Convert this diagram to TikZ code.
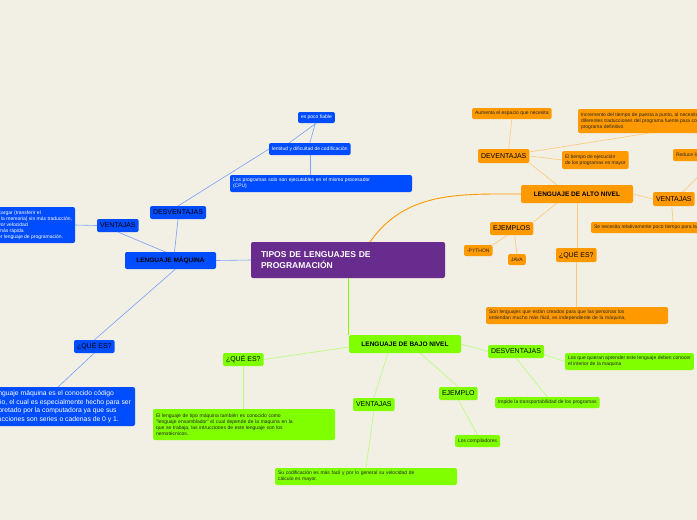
\documentclass[tikz,border=0pt]{standalone}
\usepackage{fontspec}
\setmainfont{Liberation Sans}
\begin{document}
\begin{tikzpicture}[x=1pt,y=-1pt,
 every node/.style={inner sep=0pt,outer sep=0pt},
 box/.style={rounded corners=2pt,anchor=north west,align=left,font=\fontsize{5}{6}\selectfont,inner xsep=3pt,inner ysep=1pt},
 bb/.style={box,fill=blueC,text=white},
 bh/.style={box,fill=blueC,text=black,font=\fontsize{7}{8}\selectfont},
 ob/.style={box,fill=orC,text=black!85},
 oh/.style={box,fill=orC,text=black,font=\fontsize{7}{8}\selectfont},
 gb/.style={box,fill=grC,text=black!85},
 gh/.style={box,fill=grC,text=black,font=\fontsize{7}{8}\selectfont},
 bl/.style={draw=blueL,line width=0.6pt},
 ol/.style={draw=orL,line width=0.6pt},
 gl/.style={draw=grL,line width=0.6pt}]
\definecolor{blueC}{RGB}{0,76,255}
\definecolor{blueL}{RGB}{120,160,255}
\definecolor{orC}{RGB}{255,153,0}
\definecolor{orL}{RGB}{255,200,120}
\definecolor{grC}{RGB}{128,255,0}
\definecolor{grL}{RGB}{180,255,120}
\definecolor{bgC}{RGB}{242,240,228}
\definecolor{purC}{RGB}{104,44,142}
\fill[bgC] (0,0) rectangle (697,520);
\useasboundingbox (0,0) rectangle (697,520);
\clip (0,0) rectangle (697,520);
% main
\node[box,fill=purC,text=white,font=\bfseries\fontsize{8.5}{11}\selectfont,text width=174pt,minimum height=36pt,inner xsep=10pt] (main) at (251,242) {TIPOS DE LENGUAJES DE\\PROGRAMACIÓN};
% blue
\node[bh,font=\bfseries\fontsize{6.5}{8}\selectfont,minimum height=17pt,minimum width=91pt,align=center] (lm) at (125,252) {LENGUAJE MÁQUINA};
\node[bh,minimum height=13pt] (bdes) at (150,206) {DESVENTAJAS};
\node[bh,minimum height=13pt] (bven) at (97,219) {VENTAJAS};
\node[bb,anchor=north east,minimum height=36pt] (bvt) at (75,207) {-Se puede cargar (transferir el\\programa a la memoria) sin más traducción,\\-Posee mayor velocidad\\-Ejecución más rápida\\-Es el primer lenguaje de programación.};
\node[bb,minimum height=11pt] (fia) at (298,112) {es poco fiable};
\node[bb,minimum height=12pt] (len) at (269,143) {lentitud y dificultad de codificación};
\node[bb,minimum height=17pt,text width=176pt] (pro) at (230,175) {Los programas solo son ejecutables en el mismo procesador\\(CPU)};
\node[bh,minimum height=13pt] (bque) at (74,340) {¿QUÉ ES?};
\node[bb,anchor=north east,font=\fontsize{6.8}{8.6}\selectfont,minimum height=39pt,inner xsep=4pt] (bqt) at (135,387) {El lenguaje máquina es el conocido código\\binario, el cual es especialmente hecho para ser\\interpretado por la computadora ya que sus\\instrucciones son series o cadenas de 0 y 1.};
\draw[bl] (main.west) -- (lm.east);
\draw[bl] (lm.north) ++(4,0) -- (bdes.south);
\draw[bl] (lm.north) ++(-5,0) -- (bven.south);
\draw[bl] (bven.west) -- (bvt.east);
\draw[bl] (bdes.north) -- (len.west) ;
\draw[bl] (len.north west) ++(20,0) -- (fia.south);
\draw[bl] (fia.south)++(-1,0) -- (len.north);
\draw[bl] (len.south) -- (pro.north -| len.south);
\draw[bl] (lm.south) ++(5,0) -- (bque.north);
\draw[bl] (bque.south) -- (bqt.north);
% orange
\node[oh,font=\bfseries\fontsize{6.5}{8}\selectfont,minimum height=18pt,minimum width=112pt,align=center] (an) at (521,185) {LENGUAJE DE ALTO NIVEL};
\node[oh,minimum height=14pt] (odes) at (478,149) {DEVENTAJAS};
\node[ob,minimum height=11pt] (aum) at (472,108) {Aumenta el espacio que necesita};
\node[ob,minimum height=24pt] (inc) at (578,109) {Incremento del tiempo de puesta a punto, al necesitarse\\diferentes traducciones del programa fuente para conseguir el\\programa definitivo};
\node[ob,minimum height=18pt] (tie) at (562,151) {El tiempo de ejecución\\de los programas es mayor};
\node[ob,minimum height=12pt] (red) at (673,149) {Reduce los costes de programación};
\node[oh,minimum height=14pt] (oven) at (653,192) {VENTAJAS};
\node[ob,minimum height=11pt] (nec) at (591,222) {Se necesita relativamente poco tiempo para la formación del programador};
\node[oh,minimum height=13pt] (ej) at (490,222) {EJEMPLOS};
\node[ob,minimum height=11pt] (py) at (464,245) {-PYTHON};
\node[ob,minimum height=11pt] (ja) at (508,254) {JAVA};
\node[oh,minimum height=14pt] (oque) at (556,248) {¿QUÉ ES?};
\node[ob,minimum height=17pt,text width=176pt] (son) at (486,307) {Son lenguajes que están creados para que las personas los\\entiendan mucho más fácil, es independiente de la máquina,};
\draw[orC,line width=0.9pt] (370,242) to[out=55,in=180] (an.west);
\draw[ol] (an.north) ++(-20,0) -- (odes.south east);
\draw[ol] (odes.north) ++(5,0) -- (aum.south);
\draw[ol] (odes.east) ++(0,-4) -- (inc.south);
\draw[ol] (odes.east) -- (tie.west);
\draw[ol] (an.east) -- (oven.west);
\draw[ol] (oven.north east) ++(-12,0) -- (710,165);
\draw[ol] (oven.south) ++(-2,0) -- (nec.north -| 673,0);
\draw[ol] (an.south) ++(-20,0) -- (ej.north east);
\draw[ol] (ej.south) ++(-4,0) -- (py.north east);
\draw[ol] (ej.south) ++(3,0) -- (ja.north);
\draw[ol] (an.south) -- (oque.north -| an.south);
\draw[ol] (oque.south) -- (son.north -| oque.south);
% green
\node[gh,font=\bfseries\fontsize{6.5}{8}\selectfont,minimum height=18pt,minimum width=112pt,align=center] (bn) at (349,335) {LENGUAJE DE BAJO NIVEL};
\node[gh,minimum height=13pt] (gque) at (223,353) {¿QUÉ ES?};
\node[gb,minimum height=31pt,text width=176pt] (gqt) at (153,409) {El lenguaje de tipo máquina también es conocido como\\"lenguaje ensamblador" el cual depende de la maquina en la\\que se trabaja, las intrucciones de este lenguaje son los\\nemotécnicos.};
\node[gh,minimum height=13pt] (gven) at (353,398) {VENTAJAS};
\node[gb,minimum height=17pt,text width=176pt] (cod) at (275,468) {Su codificación es más facil y por lo general su velocidad de\\cálculo es mayor.};
\node[gh,minimum height=13pt] (gej) at (439,387) {EJEMPLO};
\node[gb,minimum height=12pt] (comp) at (455,435) {Los compiladores};
\node[gh,minimum height=13pt] (gdes) at (488,345) {DESVENTAJAS};
\node[gb,minimum height=17pt] (qui) at (565,353) {Los que quieran aprender este lenguaje deben conocer\\el interior de la maquina};
\node[gb,minimum height=11pt] (imp) at (495,397) {Impide la transportabilidad de los programas};
\draw[grC,line width=0.9pt] (348,278) -- (348,335);
\draw[gl] (bn.west) ++(0,3) -- (gque.east);
\draw[gl] (gque.south) -- (gqt.north -| gque.south);
\draw[gl] (bn.south) ++(-17,0) -- (gven.north);
\draw[gl] (gven.south) -- (cod.north);
\draw[gl] (bn.south) ++(15,0) -- (gej.north);
\draw[gl] (gej.south) -- (comp.north);
\draw[gl] (bn.east) -- (gdes.west);
\draw[gl] (gdes.east) ++(0,3) -- (qui.west);
\draw[gl] (gdes.south) -- (imp.north);
\end{tikzpicture}
\end{document}
